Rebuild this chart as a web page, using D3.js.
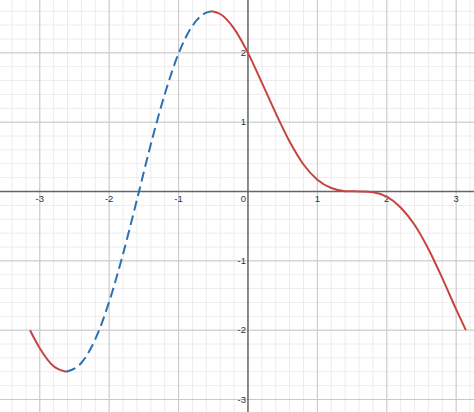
<!DOCTYPE html>
<html>
<head>
<meta charset="utf-8">
<script src="https://cdn.jsdelivr.net/npm/d3@7"></script>
<style>
  html, body { margin: 0; padding: 0; background: #fff; }
  #chart { width: 474px; height: 412px; }
  .lbl { font-family: "Liberation Sans", Arial, sans-serif; font-size: 9.5px; fill: #333; }
</style>
</head>
<body>
<div id="chart"></div>
<script>
// sample points
var xs = [-3.14, -3.0, -2.8, -2.62, -2.4, -2.2, -2.0, -1.8, -1.6, -1.4, -1.2, -1.0, -0.8, -0.6, -0.52,
          -0.4, -0.2, 0, 0.2, 0.4, 0.6, 0.8, 1.0, 1.2, 1.4, 1.6, 1.8, 2.0, 2.2, 2.4, 2.6, 2.8, 3.0, 3.14];
var ys = [-2.0, -2.26, -2.52, -2.6, -2.47, -2.13, -1.59, -0.9, -0.12, 0.68, 1.4, 1.99, 2.39, 2.58, 2.6,
          2.56, 2.35, 2.0, 1.57, 1.13, 0.72, 0.39, 0.17, 0.05, 0.005, 0, -0.01, -0.075, -0.23, -0.48, -0.83, -1.25, -1.7, -2.0];
// index ranges for the pieces (rising part is dashed)
var solidLeft = [0, 3];
var dashedMid = [3, 14];
var solidRight = [14, 33];

var xTicks = [-3, -2, -1, 1, 2, 3];
var yTicks = [-3, -2, -1, 1, 2];

var width = 474, height = 412;

var x = d3.scaleLinear().domain([-3.573, 3.257]).range([0, width]);
var y = d3.scaleLinear().domain([-3.18, 2.762]).range([height, 0]);

var svg = d3.select("#chart").append("svg")
  .attr("width", width)
  .attr("height", height);

// minor grid every 0.2
var minorX = d3.range(-3.6, 3.3, 0.2).map(function (v) { return Math.round(v * 10) / 10; });
var minorY = d3.range(-3.2, 2.8, 0.2).map(function (v) { return Math.round(v * 10) / 10; });

svg.append("g").selectAll("line")
  .data(minorX)
  .enter().append("line")
  .attr("x1", function (d) { return x(d); })
  .attr("x2", function (d) { return x(d); })
  .attr("y1", 0).attr("y2", height)
  .attr("stroke", "#ececec").attr("stroke-width", 1);

svg.append("g").selectAll("line")
  .data(minorY)
  .enter().append("line")
  .attr("y1", function (d) { return y(d); })
  .attr("y2", function (d) { return y(d); })
  .attr("x1", 0).attr("x2", width)
  .attr("stroke", "#ececec").attr("stroke-width", 1);

// major grid
svg.append("g").selectAll("line")
  .data(xTicks)
  .enter().append("line")
  .attr("x1", function (d) { return x(d); })
  .attr("x2", function (d) { return x(d); })
  .attr("y1", 0).attr("y2", height)
  .attr("stroke", "#c8c8c8").attr("stroke-width", 1);

svg.append("g").selectAll("line")
  .data(yTicks)
  .enter().append("line")
  .attr("y1", function (d) { return y(d); })
  .attr("y2", function (d) { return y(d); })
  .attr("x1", 0).attr("x2", width)
  .attr("stroke", "#c8c8c8").attr("stroke-width", 1);

// axes
svg.append("line")
  .attr("x1", 0).attr("x2", width)
  .attr("y1", y(0)).attr("y2", y(0))
  .attr("stroke", "#666").attr("stroke-width", 1.5);
svg.append("line")
  .attr("x1", x(0)).attr("x2", x(0))
  .attr("y1", 0).attr("y2", height)
  .attr("stroke", "#666").attr("stroke-width", 1.5);

// tick labels
svg.append("g").selectAll("text")
  .data(xTicks)
  .enter().append("text")
  .attr("class", "lbl")
  .attr("x", function (d) { return x(d); })
  .attr("y", y(0) + 10)
  .attr("text-anchor", "middle")
  .text(function (d) { return d; });

svg.append("g").selectAll("text")
  .data(yTicks)
  .enter().append("text")
  .attr("class", "lbl")
  .attr("x", x(0) - 2)
  .attr("y", function (d) { return y(d) + 3; })
  .attr("text-anchor", "end")
  .text(function (d) { return d; });

svg.append("text")
  .attr("class", "lbl")
  .attr("x", x(0) - 2)
  .attr("y", y(0) + 10)
  .attr("text-anchor", "end")
  .text("0");

// curve
var line = d3.line()
  .x(function (d) { return x(d[0]); })
  .y(function (d) { return y(d[1]); })
  .curve(d3.curveMonotoneX);

function piece(r) {
  return d3.range(r[0], r[1] + 1).map(function (i) { return [xs[i], ys[i]]; });
}

svg.append("path")
  .attr("d", line(piece(solidLeft)))
  .attr("fill", "none").attr("stroke", "#c74440").attr("stroke-width", 2);

svg.append("path")
  .attr("d", line(piece(dashedMid)))
  .attr("fill", "none").attr("stroke", "#2d70b3").attr("stroke-width", 2)
  .attr("stroke-dasharray", "10,5");

svg.append("path")
  .attr("d", line(piece(solidRight)))
  .attr("fill", "none").attr("stroke", "#c74440").attr("stroke-width", 2);
</script>
</body>
</html>
